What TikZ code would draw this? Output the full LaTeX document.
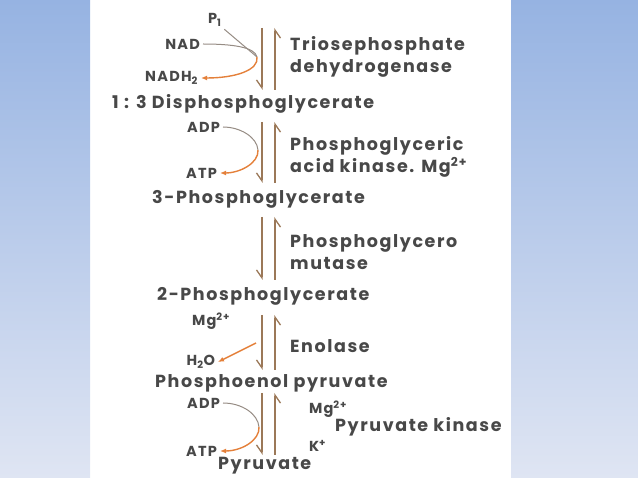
\documentclass[tikz,border=0pt]{standalone}
\usepackage{fontspec}
\setmainfont{Poppins}[LetterSpace=9]
\usetikzlibrary{arrows.meta}

\definecolor{txtgray}{RGB}{72,72,72}
\definecolor{arrbrown}{RGB}{155,120,88}
\definecolor{curvegray}{RGB}{150,140,132}
\definecolor{curveorange}{RGB}{228,128,58}
\definecolor{paneltop}{RGB}{150,179,226}
\definecolor{panelbot}{RGB}{223,229,243}

\begin{document}
\begin{tikzpicture} [
    x=1pt, y=-1pt,
    every node/.style = {text=txtgray, inner sep=0pt, font=\bfseries\fontsize{17.5}{21}\selectfont},
    cofac/.style = {font=\bfseries\fontsize{14.5}{17}\selectfont, outer sep=3pt},
    enzyme/.style = {anchor=west, align=left, font=\bfseries\fontsize{17.5}{22}\selectfont},
    fwd/.style = {draw=arrbrown, line width=1.3pt, -{Straight Barb[right, length=8pt, width=11pt]}},
    cofin/.style = {draw=curvegray, line width=1pt},
    cofout/.style = {draw=curveorange, line width=1.4pt, -{Latex[length=6pt, width=5pt]}}
]
    \useasboundingbox (0,0) rectangle (638,478);
    % side panels
    \shade[top color=paneltop, bottom color=panelbot] (0,0) rectangle (90,478);
    \shade[top color=paneltop, bottom color=panelbot] (511,0) rectangle (638,478);

    % metabolites
    \node[anchor=west] (bpg) at (112,104) {1 : 3 Disphosphoglycerate};
    \node[anchor=west] (pg3) at (152,199) {3-Phosphoglycerate};
    \node[anchor=west] (pg2) at (157,296) {2-Phosphoglycerate};
    \node[anchor=west] (pep) at (155,383) {Phosphoenol pyruvate};
    \node[anchor=west] (pyr) at (218,466) {Pyruvate};

    % enzymes
    \node[enzyme] (gapdh) at (290,57) {Triosephosphate\\dehydrogenase};
    \node[enzyme] (pgk) at (290,157) {Phosphoglyceric\\acid kinase. Mg\textsuperscript{2+}};
    \node[enzyme] (pgm) at (290,252) {Phosphoglycero\\mutase};
    \node[enzyme] (eno) at (290,346) {Enolase};
    \node[enzyme] (pk) at (335,427) {Pyruvate kinase};

    % cofactors
    \node[cofac, anchor=west] (pi) at (205,20) {P\textsubscript{1}};
    \node[cofac, anchor=east] (nad) at (203,44) {NAD};
    \node[cofac, anchor=east] (nadh) at (201,78) {NADH\textsubscript{2}};
    \node[cofac, anchor=east] (adpa) at (223,127) {ADP};
    \node[cofac, anchor=east] (atpa) at (220,173) {ATP};
    \node[cofac, anchor=west] (mga) at (189,321) {Mg\textsuperscript{2+}};
    \node[cofac, anchor=east] (water) at (218,362) {H\textsubscript{2}O};
    \node[cofac, anchor=east] (adpb) at (223,403) {ADP};
    \node[cofac, anchor=east] (atpb) at (220,451) {ATP};
    \node[cofac, anchor=west] (mgb) at (306,409) {Mg\textsuperscript{2+}};
    \node[cofac, anchor=west] (kion) at (306,446) {K\textsuperscript{+}};

    % reversible steps
    \foreach \i/\ya/\yb in {1/28/90, 2/122/183, 3/217/280, 4/315/370, 5/393/455} {
        \coordinate (dn\i a) at (262,\ya);
        \coordinate (dn\i b) at (262,\yb);
        \coordinate (up\i a) at (275,\yb);
        \coordinate (up\i b) at (275,\ya);
        \draw[fwd] (dn\i a) -- (dn\i b);
        \draw[fwd] (up\i a) -- (up\i b);
    }

    % cofactor curves
    \coordinate (j1) at (257,57);
    \draw[cofin] (nad.east) .. controls (232,44) and (255,47) .. (j1);
    \draw[cofin] (pi.south east) -- (j1);
    \draw[cofout] (j1) .. controls (259,70) and (236,78) .. (nadh.east);

    \coordinate (j2) at (258,150);
    \draw[cofin] (adpa.east) .. controls (240,127) and (257,137) .. (j2);
    \draw[cofout] (j2) .. controls (259,163) and (240,173) .. (atpa.east);

    \coordinate (j4) at (256,343);
    \draw[cofout] (j4) -- (water.east);

    \coordinate (j5) at (259,427);
    \draw[cofin] (adpb.east) .. controls (242,403) and (258,414) .. (j5);
    \draw[cofout] (j5) .. controls (260,440) and (242,451) .. (atpb.east);
\end{tikzpicture}
\end{document}
